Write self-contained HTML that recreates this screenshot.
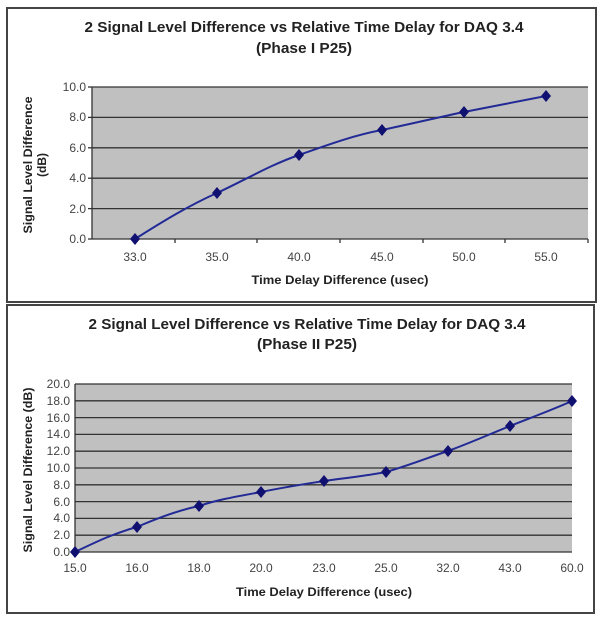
<!DOCTYPE html>
<html><head><style>body{margin:0;background:#fff}</style></head><body>
<svg width="600" height="621" xmlns="http://www.w3.org/2000/svg" font-family="Liberation Sans, Arial, sans-serif">
<rect x="0" y="0" width="600" height="621" fill="#fff"/>
<!-- Chart 1 -->
<rect x="7" y="8" width="589" height="294" fill="#fff" stroke="#444" stroke-width="2"/>
<text x="304" y="32" text-anchor="middle" font-size="14.5" font-weight="bold" fill="#222" textLength="439" lengthAdjust="spacingAndGlyphs">2 Signal Level Difference vs Relative Time Delay for DAQ 3.4</text>
<text x="304" y="53" text-anchor="middle" font-size="14.5" font-weight="bold" fill="#222" textLength="96" lengthAdjust="spacingAndGlyphs">(Phase I P25)</text>
<rect x="92" y="87" width="496" height="152" fill="#c0c0c0"/>
<g stroke="#333" stroke-width="1.3">
<line x1="92" y1="87" x2="588" y2="87"/><line x1="92" y1="117.4" x2="588" y2="117.4"/><line x1="92" y1="147.8" x2="588" y2="147.8"/><line x1="92" y1="178.2" x2="588" y2="178.2"/><line x1="92" y1="208.6" x2="588" y2="208.6"/>
<line x1="92" y1="239" x2="588" y2="239"/><line x1="92" y1="87" x2="92" y2="239"/>
<line x1="88" y1="87" x2="92" y2="87"/><line x1="88" y1="117.4" x2="92" y2="117.4"/><line x1="88" y1="147.8" x2="92" y2="147.8"/><line x1="88" y1="178.2" x2="92" y2="178.2"/><line x1="88" y1="208.6" x2="92" y2="208.6"/><line x1="88" y1="239" x2="92" y2="239"/>
<line x1="175" y1="239" x2="175" y2="243"/><line x1="257" y1="239" x2="257" y2="243"/><line x1="340" y1="239" x2="340" y2="243"/><line x1="423" y1="239" x2="423" y2="243"/><line x1="505" y1="239" x2="505" y2="243"/><line x1="588" y1="239" x2="588" y2="243"/>
</g>
<g font-size="12" fill="#444" text-anchor="end">
<text x="86" y="91">10.0</text><text x="86" y="121">8.0</text><text x="86" y="152">6.0</text><text x="86" y="182">4.0</text><text x="86" y="213">2.0</text><text x="86" y="243">0.0</text>
</g>
<g font-size="12" fill="#444" text-anchor="middle">
<text x="135" y="261">33.0</text><text x="217" y="261">35.0</text><text x="299" y="261">40.0</text><text x="382" y="261">45.0</text><text x="464" y="261">50.0</text><text x="546" y="261">55.0</text>
</g>
<text x="340" y="284" text-anchor="middle" font-size="12" font-weight="bold" fill="#222" textLength="177" lengthAdjust="spacingAndGlyphs">Time Delay Difference (usec)</text>
<text transform="translate(32,165) rotate(-90)" text-anchor="middle" font-size="12" font-weight="bold" fill="#222" textLength="137" lengthAdjust="spacingAndGlyphs">Signal Level Difference</text>
<text transform="translate(46,165) rotate(-90)" text-anchor="middle" font-size="12" font-weight="bold" fill="#222">(dB)</text>
<path d="M135,239 C165,220 190,205 217,193 C245,180 270,165 299,155 C330,144 355,135 382,130 C415,123 440,117 464,112 C490,107 520,101 546,96" fill="none" stroke="#222a96" stroke-width="2"/>
<g fill="#101070">
<path d="M135,233 l5,6 l-5,6 l-5,-6z"/><path d="M217,187 l5,6 l-5,6 l-5,-6z"/><path d="M299,149 l5,6 l-5,6 l-5,-6z"/><path d="M382,124 l5,6 l-5,6 l-5,-6z"/><path d="M464,106 l5,6 l-5,6 l-5,-6z"/><path d="M546,90 l5,6 l-5,6 l-5,-6z"/>
</g>
<!-- Chart 2 -->
<rect x="7" y="305" width="587" height="308" fill="#fff" stroke="#444" stroke-width="2"/>
<text x="307" y="329" text-anchor="middle" font-size="14.5" font-weight="bold" fill="#222" textLength="437" lengthAdjust="spacingAndGlyphs">2 Signal Level Difference vs Relative Time Delay for DAQ 3.4</text>
<text x="307" y="349" text-anchor="middle" font-size="14.5" font-weight="bold" fill="#222" textLength="100" lengthAdjust="spacingAndGlyphs">(Phase II P25)</text>
<rect x="75" y="384" width="497" height="168" fill="#c0c0c0"/>
<g stroke="#333" stroke-width="1.3">
<line x1="75" y1="384" x2="572" y2="384"/><line x1="75" y1="400.8" x2="572" y2="400.8"/><line x1="75" y1="417.6" x2="572" y2="417.6"/><line x1="75" y1="434.4" x2="572" y2="434.4"/><line x1="75" y1="451.2" x2="572" y2="451.2"/><line x1="75" y1="468" x2="572" y2="468"/><line x1="75" y1="484.8" x2="572" y2="484.8"/><line x1="75" y1="501.6" x2="572" y2="501.6"/><line x1="75" y1="518.4" x2="572" y2="518.4"/><line x1="75" y1="535.2" x2="572" y2="535.2"/><line x1="75" y1="552" x2="572" y2="552"/>
<line x1="75" y1="384" x2="75" y2="552"/>
</g>
<g font-size="12" fill="#444" text-anchor="end">
<text x="70" y="388">20.0</text><text x="70" y="405">18.0</text><text x="70" y="422">16.0</text><text x="70" y="438">14.0</text><text x="70" y="455">12.0</text><text x="70" y="472">10.0</text><text x="70" y="489">8.0</text><text x="70" y="506">6.0</text><text x="70" y="522">4.0</text><text x="70" y="539">2.0</text><text x="70" y="556">0.0</text>
</g>
<g font-size="12" fill="#444" text-anchor="middle">
<text x="75" y="572">15.0</text><text x="137" y="572">16.0</text><text x="199" y="572">18.0</text><text x="261" y="572">20.0</text><text x="324" y="572">23.0</text><text x="386" y="572">25.0</text><text x="448" y="572">32.0</text><text x="510" y="572">43.0</text><text x="572" y="572">60.0</text>
</g>
<text x="324" y="596" text-anchor="middle" font-size="12" font-weight="bold" fill="#222" textLength="176" lengthAdjust="spacingAndGlyphs">Time Delay Difference (usec)</text>
<text transform="translate(32,470) rotate(-90)" text-anchor="middle" font-size="12" font-weight="bold" fill="#222" textLength="165" lengthAdjust="spacingAndGlyphs">Signal Level Difference (dB)</text>
<path d="M75,552 C100,540 115,533 137,527 C160,517 180,510 199,506 C220,499 240,496 261,492 C285,487 305,484 324,481 C345,478 365,476 386,472 C410,465 430,457 448,451 C470,443 490,434 510,426 C530,418 552,410 572,401" fill="none" stroke="#222a96" stroke-width="2"/>
<g fill="#101070">
<path d="M75,546 l5,6 l-5,6 l-5,-6z"/><path d="M137,521 l5,6 l-5,6 l-5,-6z"/><path d="M199,500 l5,6 l-5,6 l-5,-6z"/><path d="M261,486 l5,6 l-5,6 l-5,-6z"/><path d="M324,475 l5,6 l-5,6 l-5,-6z"/><path d="M386,466 l5,6 l-5,6 l-5,-6z"/><path d="M448,445 l5,6 l-5,6 l-5,-6z"/><path d="M510,420 l5,6 l-5,6 l-5,-6z"/><path d="M572,395 l5,6 l-5,6 l-5,-6z"/>
</g>
</svg>
</body></html>
